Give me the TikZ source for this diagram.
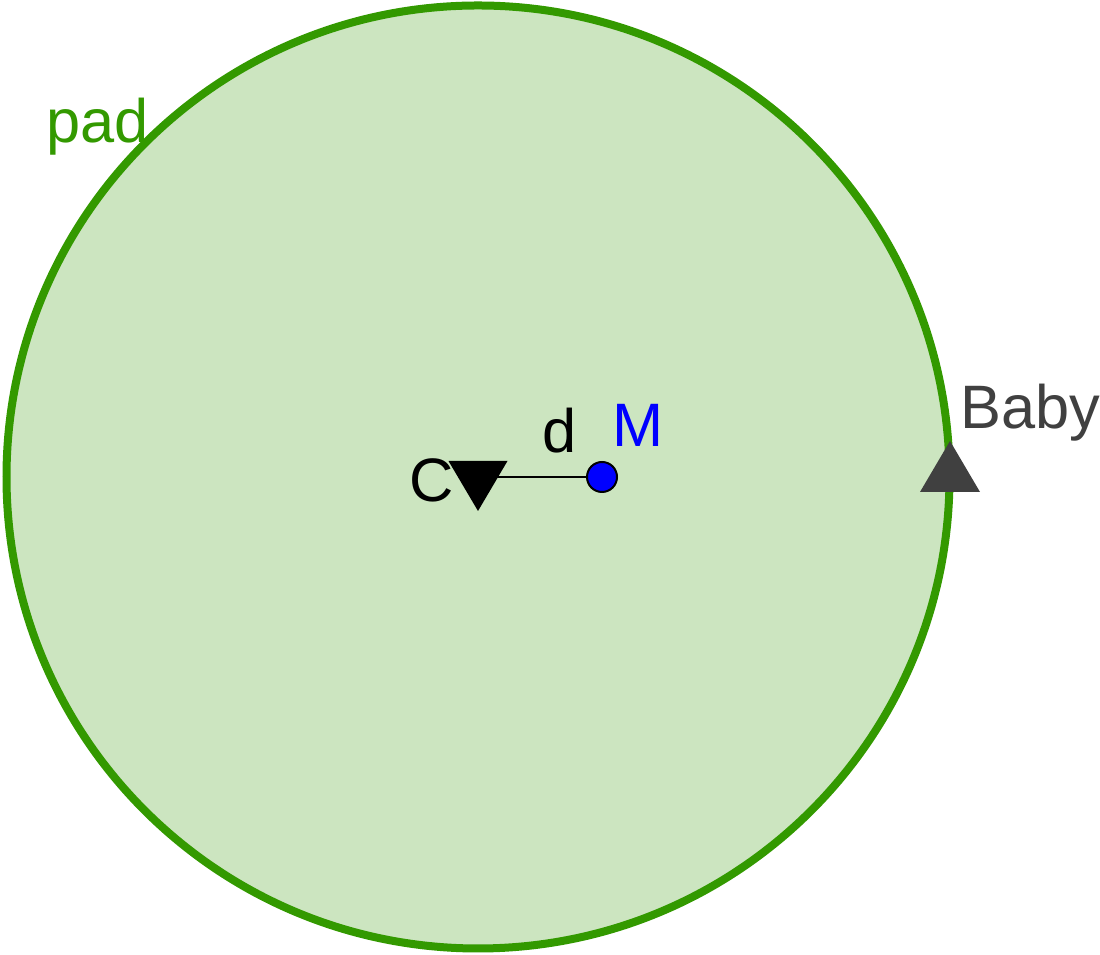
\documentclass[tikz,border=0pt]{standalone}
\usepackage{fontspec}
\setmainfont{Liberation Sans}
\usepackage{tikz}
\usetikzlibrary{positioning,calc}
\definecolor{padfill}{HTML}{CCE5C0}
\definecolor{padline}{HTML}{339900}
\definecolor{babygray}{HTML}{404040}
\definecolor{mblue}{HTML}{0000FF}
\tikzset{lbl/.style={anchor=base west, inner sep=0pt, font=\fontsize{46}{55}\selectfont}}

\begin{document}
\begin{tikzpicture}[x=0.75pt, y=0.75pt]
        \useasboundingbox (0,0) rectangle (1100,955);
        \coordinate (P) at (478,478);
        \coordinate (C) at (478,478);
        \coordinate (B) at (950,478);
        \filldraw[fill=padfill, draw=padline, line width=6pt] (P) circle (471.5);
        \node[lbl, text=padline] (padlabel) at (46,812) {pad};
        \node[circle, fill=mblue, draw=black, line width=1.5pt, minimum size=30*0.75pt, inner sep=0pt] (M) at (602,478) {};
        \draw[black, line width=1.5pt] (C) -- (M);
        \fill[black] ($(C)+(-29.5,16)$) -- ($(C)+(29.5,16)$) -- ($(C)+(0,-34)$) -- cycle;
        \fill[babygray] ($(B)+(-30,-15)$) -- ($(B)+(30,-15)$) -- ($(B)+(0,36)$) -- cycle;
        \node[lbl] (Clabel) at (409,453) {C};
        \node[lbl] (dlabel) at (542,502) {d};
        \node[lbl, text=mblue] (Mlabel) at (612,508) {M};
        \node[lbl, text=babygray] (Blabel) at (960,526) {Baby};
    \end{tikzpicture}
\end{document}
